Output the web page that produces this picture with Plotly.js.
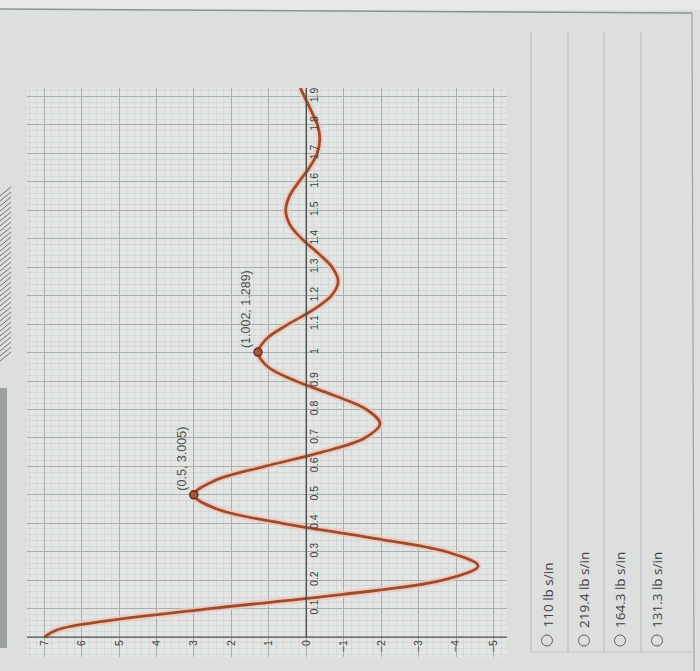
<!DOCTYPE html>
<html>
<head>
<meta charset="utf-8">
<script src="https://cdn.plot.ly/plotly-3.0.1.min.js"></script>
<style>
  html, body { margin: 0; padding: 0; background: #dcdfdd; }
  #chart { width: 700px; height: 671px; }
</style>
</head>
<body>
<div id="chart"></div>
<script>
// values (time in s, displacement)
const times = [0, 0.025, 0.05, 0.1, 0.15, 0.2, 0.25, 0.3, 0.35, 0.4, 0.45, 0.5,
  0.55, 0.6, 0.65, 0.7, 0.75, 0.8, 0.85, 0.9, 0.95, 1.0,
  1.05, 1.1, 1.15, 1.2, 1.25, 1.3, 1.35, 1.4, 1.45, 1.5,
  1.55, 1.6, 1.65, 1.7, 1.75, 1.8, 1.85, 1.9, 1.93]
const disp = [7.00, 6.66, 5.71, 2.58, -0.98, -3.64, -4.59, -3.74, -1.69, 0.64, 2.39, 3.005,
  2.45, 1.11, -0.42, -1.56, -1.97, -1.61, -0.73, 0.28, 1.03, 1.29,
  1.05, 0.48, -0.18, -0.67, -0.85, -0.69, -0.31, 0.12, 0.44, 0.55,
  0.45, 0.20, -0.08, -0.29, -0.36, -0.30, -0.13, 0.05, 0.16]

const pointT = [0.5, 1.002]
const pointX = [3.005, 1.289]
const pointLabels = ['(0.5, 3.005)', '(1.002, 1.289)']

const valueTicks = [7, 6, 5, 4, 3, 2, 1, 0, -1, -2, -3, -4, -5]
const timeTicks = [0.1, 0.2, 0.3, 0.4, 0.5, 0.6, 0.7, 0.8, 0.9, 1, 1.1, 1.2, 1.3, 1.4, 1.5, 1.6, 1.7, 1.8, 1.9]
const timeTickText = ['0.1', '0.2', '0.3', '0.4', '0.5', '0.6', '0.7', '0.8', '0.9', '1', '1.1', '1.2', '1.3', '1.4', '1.5', '1.6', '1.7', '1.8', '1.9']

const options = ['110 lb s/in', '219.4 lb s/in', '164.3 lb s/in', '131.3 lb s/in']

const xRange = [7.46, -5.36]
const yRange = [-0.07, 1.93]


// H| page geometry (photo is turned 90deg, so time runs up and values run left)
const W = 700, H = 671
const M = { l: 27, r: 193, t: 88, b: 14 }
const PW = W - M.l - M.r
const PH = H - M.t - M.b
const px = x => (x - M.l) / PW
const py = y => (H - M.b - y) / PH

const curveColor = '#9d4d2f'

const traces = [
	{
		x: disp, y: times, type: 'scatter', mode: 'lines',
		line: { color: 'rgba(240,196,180,0.75)', width: 7, shape: 'spline' },
		hoverinfo: 'skip'
	},
	{
		x: disp, y: times, type: 'scatter', mode: 'lines',
		line: { color: curveColor, width: 2.8, shape: 'spline' }
	},
	{
		x: pointX, y: pointT, type: 'scatter', mode: 'markers',
		marker: { size: 8, color: '#a9573a', line: { color: '#62301d', width: 1.5 } }
	}
]

const shapes = []
// axis lines
const zeroFrac = (0 - yRange[0]) / (yRange[1] - yRange[0])
shapes.push({ type: 'line', xref: 'x', yref: 'paper', x0: 0, x1: 0, y0: zeroFrac, y1: 1, line: { color: '#4a4d4c', width: 1.4 } })
shapes.push({ type: 'line', xref: 'paper', yref: 'y', x0: 0, x1: 1, y0: 0, y1: 0, line: { color: '#4a4d4c', width: 1.4 } })

// page furniture around the plot
shapes.push({ type: 'rect', xref: 'paper', yref: 'paper', x0: px(0), x1: px(700), y0: py(0), y1: py(10), fillcolor: '#e6e9e8', line: { width: 0 }, layer: 'below' })
shapes.push({ type: 'line', xref: 'paper', yref: 'paper', x0: px(0), x1: px(692), y0: py(9), y1: py(13), line: { color: '#8c9290', width: 1.5 } })
shapes.push({ type: 'line', xref: 'paper', yref: 'paper', x0: px(692), x1: px(694), y0: py(13), y1: py(671), line: { color: '#9ea3a1', width: 1.2 } })
;[531, 568, 604, 641].forEach(x => {
	shapes.push({ type: 'line', xref: 'paper', yref: 'paper', x0: px(x), x1: px(x), y0: py(32), y1: py(652), line: { color: '#b3b8b6', width: 1 } })
})
shapes.push({ type: 'line', xref: 'paper', yref: 'paper', x0: px(531), x1: px(692), y0: py(652), y1: py(652), line: { color: '#c0c4c2', width: 1 } })
shapes.push({ type: 'rect', xref: 'paper', yref: 'paper', x0: px(0), x1: px(7), y0: py(388), y1: py(648), fillcolor: '#9ba19e', line: { width: 0 } })

// hatched strip at left edge
let hatch = ''
for (let y = 196; y <= 365; y += 5) {
	hatch += `M${px(0)},${py(y)} L${px(11)},${py(y - 9)} `
}
shapes.push({ type: 'path', xref: 'paper', yref: 'paper', path: hatch, line: { color: '#6d7270', width: 1 } })

const annotations = []
pointLabels.forEach((txt, i) => {
	annotations.push({
		x: pointX[i], y: pointT[i], xref: 'x', yref: 'y', text: txt,
		textangle: -90, xanchor: 'right', yanchor: 'bottom', xshift: -3, yshift: 2,
		showarrow: false, font: { family: 'Liberation Sans, Arial', size: 12.5, color: '#4e5150' }
	})
})

// answer choices with radio circles
const optX = [547, 584, 620, 657]
options.forEach((txt, i) => {
	shapes.push({
		type: 'circle', xref: 'paper', yref: 'paper',
		x0: px(optX[i] - 5.5), x1: px(optX[i] + 5.5), y0: py(646), y1: py(635),
		line: { color: '#5a5e5c', width: 1 }, fillcolor: 'rgba(0,0,0,0)'
	})
	annotations.push({
		x: px(optX[i]), y: py(630), xref: 'paper', yref: 'paper', text: txt,
		textangle: -90, xanchor: 'center', yanchor: 'bottom',
		showarrow: false, font: { family: 'Open Sans', size: 13.5, color: '#3d403f' }
	})
})

const layout = {
	width: W, height: H,
	margin: M,
	paper_bgcolor: '#dcdfdd',
	plot_bgcolor: '#e3e6e5',
	showlegend: false,
	font: { family: 'Liberation Sans, Arial', size: 10, color: '#3e4140' },
	xaxis: {
		range: xRange, autorange: false,
		tickmode: 'array', tickvals: valueTicks,
		tickangle: -90, ticks: '',
		anchor: 'free', position: zeroFrac,
		showgrid: true, gridcolor: '#a9aead', gridwidth: 1,
		minor: { tickmode: 'linear', tick0: 0, dtick: 0.2, showgrid: true, gridcolor: '#d0d4d3', gridwidth: 0.8 },
		zeroline: false, showline: false,
		tickfont: { size: 10.5 }
	},
	yaxis: {
		range: yRange, autorange: false,
		tickmode: 'array', tickvals: timeTicks, ticktext: timeTickText,
		tickangle: -90, ticks: '',
		anchor: 'free', position: (xRange[0] - 0) / (xRange[0] - xRange[1]), side: 'right',
		showgrid: true, gridcolor: '#a9aead', gridwidth: 1,
		minor: { tickmode: 'linear', tick0: 0, dtick: 0.02, showgrid: true, gridcolor: '#d0d4d3', gridwidth: 0.8 },
		zeroline: false, showline: false,
		tickfont: { size: 10.5 }
	},
	shapes: shapes,
	annotations: annotations
}

Plotly.newPlot('chart', traces, layout, { displayModeBar: false, staticPlot: true })
</script>
</body>
</html>
